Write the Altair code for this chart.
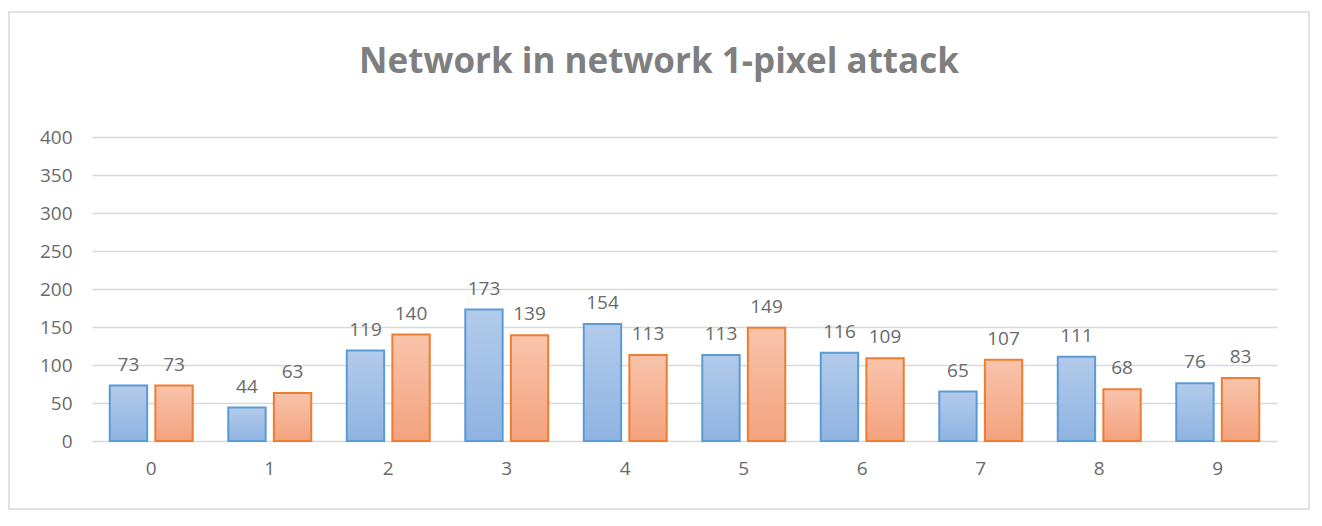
import altair as alt
import pandas as pd

digits = ["0", "1", "2", "3", "4", "5", "6", "7", "8", "9"]
series_a = [73, 44, 119, 173, 154, 113, 116, 65, 111, 76]
series_b = [73, 63, 140, 139, 113, 149, 109, 107, 68, 83]
series_names = ["Series1", "Series2"]
title_text = "Network in network 1-pixel attack"
y_ticks = [0, 50, 100, 150, 200, 250, 300, 350, 400]

rows = []
for d, a, b in zip(digits, series_a, series_b):
    rows.append({"digit": d, "series": series_names[0], "value": a})
    rows.append({"digit": d, "series": series_names[1], "value": b})
df = pd.DataFrame(rows)

FONT = "Open Sans"
TXT = "#6a6a6a"

x_enc = alt.X("digit:N", sort=digits,
              scale=alt.Scale(paddingInner=0.3, paddingOuter=0.15),
              axis=alt.Axis(title=None, labelAngle=0, domain=False, ticks=False,
                            labelPadding=18, labelFontSize=19, labelColor=TXT,
                            labelFont=FONT, grid=False))
xo_enc = alt.XOffset("series:N", sort=series_names,
                     scale=alt.Scale(domain=series_names, paddingInner=0.18))
y_enc = alt.Y("value:Q", scale=alt.Scale(domain=[0, 400], nice=False),
              axis=alt.Axis(title=None, values=y_ticks, domain=False, ticks=False,
                            labelPadding=20, labelFontSize=19, labelColor=TXT,
                            labelFont=FONT, gridColor="#d9d9d9", gridWidth=1.5))

def grad(top, bottom):
    return alt.Gradient(gradient="linear",
                        stops=[alt.GradientStop(color=top, offset=0),
                               alt.GradientStop(color=bottom, offset=1)],
                        x1=0, x2=0, y1=0, y2=1)

base = alt.Chart(df)
one = alt.Data(values=[{"t": title_text}])

frame = alt.Chart(one).mark_rect(
    fillOpacity=0, stroke="#d9d9d9", strokeWidth=1.5
).encode(x=alt.value(-83), x2=alt.value(1217), y=alt.value(-125), y2=alt.value(372))

title = alt.Chart(one).mark_text(
    font=FONT, fontSize=35, fontWeight="bold", color="#7f7f7f",
    align="center", baseline="alphabetic"
).encode(x=alt.value(567), y=alt.value(-64), text="t:N")

bars_a = base.transform_filter(alt.datum.series == series_names[0]).mark_bar(
    fill=grad("#b3cbeb", "#8fb3e2"), stroke="#5b9bd5", strokeWidth=2
).encode(x=x_enc, xOffset=xo_enc, y=y_enc)

bars_b = base.transform_filter(alt.datum.series == series_names[1]).mark_bar(
    fill=grad("#f8c4ab", "#f4a27e"), stroke="#ed7d31", strokeWidth=2
).encode(x=x_enc, xOffset=xo_enc, y=y_enc)

labels = base.mark_text(baseline="bottom", dy=-11, fontSize=19, font=FONT, color=TXT).encode(
    x=x_enc, xOffset=xo_enc, y=y_enc, text="value:Q")

chart = alt.layer(frame, title, bars_a, bars_b, labels).properties(
    width=1185, height=304,
    padding={"left": 84, "top": 129, "right": 33, "bottom": 70},
    autosize=alt.AutoSizeParams(type="none"),
).configure_view(stroke=None)

chart.save("out.html", embed_options={"renderer": "svg", "actions": False})
